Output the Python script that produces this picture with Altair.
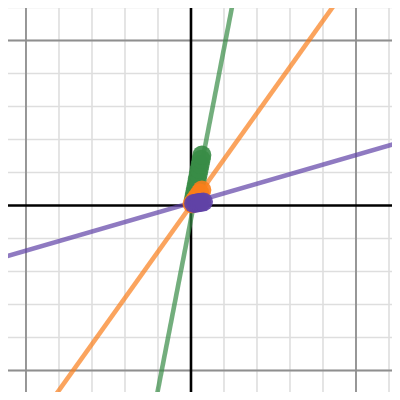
import pandas as pd
import altair as alt

# Graph units: one minor grid square = 1, major lines every 5
X_DOMAIN = [-5.545, 6.091]
Y_DOMAIN = [-5.652, 5.985]

MINOR_TICKS = [-5, -4, -3, -2, -1, 1, 2, 3, 4, 5, 6]
MAJOR_TICKS = [-5, 5]

SERIES = ["green", "orange", "purple"]
COLORS = ["#388c46", "#fa7e19", "#6042a6"]
SLOPES = [5.17, 1.40, 0.29]
INTERCEPTS = [-0.41, 0.0, 0.08]
LINE_ENDS = [-7, 8]

GREEN_X = [0.07, 0.10, 0.13, 0.16, 0.19, 0.22, 0.25, 0.28, 0.31, 0.33]
GREEN_Y = [0.20, 0.35, 0.50, 0.65, 0.80, 0.95, 1.10, 1.25, 1.40, 1.53]
ORANGE_X = [0.03, 0.09, 0.15, 0.21, 0.27, 0.33]
ORANGE_Y = [0.05, 0.13, 0.21, 0.30, 0.38, 0.47]
PURPLE_X = [0.08, 0.14, 0.20, 0.26, 0.32, 0.38]
PURPLE_Y = [0.06, 0.07, 0.08, 0.09, 0.10, 0.11]

xs = alt.Scale(domain=X_DOMAIN, nice=False, zero=False)
ys = alt.Scale(domain=Y_DOMAIN, nice=False, zero=False)
cscale = alt.Scale(domain=SERIES, range=COLORS)

minor_x = alt.Chart(pd.DataFrame({"v": MINOR_TICKS})).mark_rule(
    color="#dedede", strokeWidth=1.6
).encode(x=alt.X("v:Q", scale=xs, axis=None))
minor_y = alt.Chart(pd.DataFrame({"v": MINOR_TICKS})).mark_rule(
    color="#dedede", strokeWidth=1.6
).encode(y=alt.Y("v:Q", scale=ys, axis=None))
major_x = alt.Chart(pd.DataFrame({"v": MAJOR_TICKS})).mark_rule(
    color="#8f8f8f", strokeWidth=1.8
).encode(x=alt.X("v:Q", scale=xs, axis=None))
major_y = alt.Chart(pd.DataFrame({"v": MAJOR_TICKS})).mark_rule(
    color="#8f8f8f", strokeWidth=1.8
).encode(y=alt.Y("v:Q", scale=ys, axis=None))
axis_x = alt.Chart(pd.DataFrame({"v": [0]})).mark_rule(
    color="#000000", strokeWidth=2.6
).encode(x=alt.X("v:Q", scale=xs, axis=None))
axis_y = alt.Chart(pd.DataFrame({"v": [0]})).mark_rule(
    color="#000000", strokeWidth=2.6
).encode(y=alt.Y("v:Q", scale=ys, axis=None))

line_rows = []
for i, s in enumerate(SERIES):
    for x in LINE_ENDS:
        line_rows.append({"series": s, "x": x, "y": SLOPES[i] * x + INTERCEPTS[i]})
lines_df = pd.DataFrame(line_rows)

lines = alt.Chart(lines_df).mark_line(strokeWidth=4.6, opacity=0.7, clip=True).encode(
    x=alt.X("x:Q", scale=xs, axis=None),
    y=alt.Y("y:Q", scale=ys, axis=None),
    color=alt.Color("series:N", scale=cscale, legend=None),
    detail="series:N",
)

pts = pd.concat([
    pd.DataFrame({"series": "green", "x": GREEN_X, "y": GREEN_Y}),
    pd.DataFrame({"series": "orange", "x": ORANGE_X, "y": ORANGE_Y}),
    pd.DataFrame({"series": "purple", "x": PURPLE_X, "y": PURPLE_Y}),
])
pts["layer"] = pts["series"].map({"green": 0, "orange": 1, "purple": 2})

points = alt.Chart(pts).mark_circle(size=360, opacity=0.9).encode(
    x=alt.X("x:Q", scale=xs, axis=None),
    y=alt.Y("y:Q", scale=ys, axis=None),
    color=alt.Color("series:N", scale=cscale, legend=None),
    order=alt.Order("layer:Q"),
)

chart = alt.layer(
    minor_x, minor_y, major_x, major_y, axis_x, axis_y, lines, points
).properties(
    width=384, height=384, padding=0,
    autosize=alt.AutoSizeParams(type="none"),
).configure_view(stroke=None)

chart.save("out.html", embed_options={"renderer": "svg", "actions": False})
